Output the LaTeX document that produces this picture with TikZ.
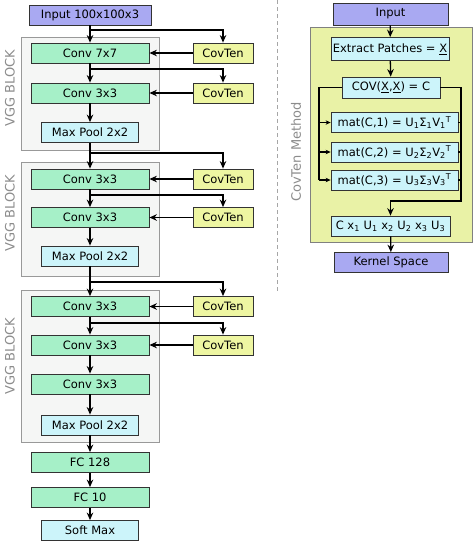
\documentclass[tikz,border=0pt]{standalone}
\usepackage{fontspec}
\setmainfont{DejaVu Sans}
\usetikzlibrary{arrows.meta}
\definecolor{convgreen}{HTML}{A6F0C8}
\definecolor{poolcyan}{HTML}{CCF4FA}
\definecolor{covyellow}{HTML}{EEF6A2}
\definecolor{methodbg}{HTML}{E9F2A6}
\definecolor{inpurple}{HTML}{A9A9F2}
\definecolor{blockgray}{HTML}{F5F6F5}

\begin{document}
\begin{tikzpicture}[x=1pt,y=-1pt,>={Stealth[length=7.5pt,width=6.5pt]},line width=1.3pt,
    box/.style={draw=black!80,line width=0.8pt,inner sep=0pt,minimum height=20pt,font=\fontsize{11.5}{13}\selectfont},
    conv/.style={box,fill=convgreen,minimum width=118pt},
    pool/.style={box,fill=poolcyan,minimum width=97pt},
    covten/.style={box,fill=covyellow,minimum width=60pt},
    inbox/.style={box,fill=inpurple},
    step box/.style={box,fill=poolcyan},
    vggblock/.style={draw=black!40,fill=blockgray,line width=0.8pt},
    lbl/.style={text=black!45,font=\fontsize{13}{15}\selectfont,rotate=90},
    small/.style={->,>={Stealth[length=5pt,width=4.5pt]}}]
    \useasboundingbox (0,0) rectangle (474,541);

    % vgg blocks
    \draw[vggblock] (21,37) rectangle (159,150);
    \draw[vggblock] (21,162) rectangle (159,276);
    \draw[vggblock] (21,290) rectangle (159,442);
    \node[lbl] (v1) at (10,88) {VGG BLOCK};
    \node[lbl] (v2) at (10,213) {VGG BLOCK};
    \node[lbl] (v3) at (10,356) {VGG BLOCK};

    % network
    \node[inbox,minimum width=122pt] (in) at (90,15) {Input 100x100x3};
    \node[conv] (c1) at (90,53) {Conv 7x7};
    \node[conv] (c2) at (90,93) {Conv 3x3};
    \node[pool] (p1) at (90,132.5) {Max Pool 2x2};
    \node[conv] (c3) at (90,179) {Conv 3x3};
    \node[conv] (c4) at (90,217.5) {Conv 3x3};
    \node[pool] (p2) at (90,256) {Max Pool 2x2};
    \node[conv] (c5) at (90,306.5) {Conv 3x3};
    \node[conv] (c6) at (90,345) {Conv 3x3};
    \node[conv] (c7) at (90,384) {Conv 3x3};
    \node[pool] (p3) at (90,425) {Max Pool 2x2};
    \node[conv] (f1) at (90,462.5) {FC 128};
    \node[conv] (f2) at (90,497.5) {FC 10};
    \node[pool] (sm) at (90,530.5) {Soft Max};

    \node[covten] (t1) at (223,53) {CovTen};
    \node[covten] (t2) at (223,93) {CovTen};
    \node[covten] (t3) at (223,179) {CovTen};
    \node[covten] (t4) at (223,217.5) {CovTen};
    \node[covten] (t5) at (223,306.5) {CovTen};
    \node[covten] (t6) at (223,345) {CovTen};

    \draw[->] (in) -- (c1);
    \draw[->] (c1) -- (c2);
    \draw[->] (c2) -- (p1);
    \draw[->] (p1) -- (c3);
    \draw[->] (c3) -- (c4);
    \draw[->] (c4) -- (p2);
    \draw[->] (p2) -- (c5);
    \draw[->] (c5) -- (c6);
    \draw[->] (c6) -- (c7);
    \draw[->] (c7) -- (p3);
    \draw[->] (p3) -- (f1);
    \draw[->] (f1) -- (f2);
    \draw[->] (f2) -- (sm);

    % branches to covten
    \coordinate (b1) at (90,30);
    \coordinate (b2) at (90,69);
    \coordinate (b3) at (90,153);
    \coordinate (b4) at (90,195);
    \coordinate (b5) at (90,282);
    \coordinate (b6) at (90,323);
    \foreach \i in {1,...,6}
        \draw[->] (b\i) -| (t\i);
    \draw[->] (t1) -- (c1);
    \draw[->] (t2) -- (c2);
    \draw[->] (t3) -- (c3);
    \draw[->] (t4) -- (c4);
    \draw[->] (t5) -- (c5);
    \draw[->] (t6) -- (c6);

    % separator
    \draw[black!35,line width=0.8pt,dash pattern=on 4pt off 3pt] (277,0) -- (277,292);

    % covten method
    \draw[draw=black!50,fill=methodbg,line width=0.8pt] (310,27) rectangle (472,242);
    \node[lbl] (cm) at (296,152) {CovTen Method};

    \node[inbox,minimum width=115pt,minimum height=22pt] (rin) at (390.5,14) {Input};
    \node[step box,minimum width=118pt,minimum height=23pt] (ext) at (390,49) {Extract Patches = \underline{X}};
    \node[step box,minimum width=98pt,minimum height=21pt] (cov) at (391,87.5) {COV(\underline{X},\underline{X}) = C};
    \node[step box,minimum width=127pt] (m1) at (394.5,122.5) {mat(C,1) = U\textsubscript{1}Σ\textsubscript{1}V\textsubscript{1}\textsuperscript{T}};
    \node[step box,minimum width=127pt] (m2) at (394.5,152) {mat(C,2) = U\textsubscript{2}Σ\textsubscript{2}V\textsubscript{2}\textsuperscript{T}};
    \node[step box,minimum width=127pt] (m3) at (394.5,180) {mat(C,3) = U\textsubscript{3}Σ\textsubscript{3}V\textsubscript{3}\textsuperscript{T}};
    \node[step box,minimum width=119pt] (cx) at (390.5,226) {C x\textsubscript{1} U\textsubscript{1} x\textsubscript{2} U\textsubscript{2} x\textsubscript{3} U\textsubscript{3}};
    \node[inbox,minimum width=114pt] (ks) at (391,262.5) {Kernel Space};

    \draw[->] (rin) -- (ext);
    \draw[->] (ext) -- (cov);
    \coordinate (lt) at (319,87.5);
    \coordinate (lb) at (319,180);
    \coordinate (rt) at (461,87.5);
    \coordinate (rb) at (461,201);
    \draw (cov) -- (lt) -- (lb);
    \foreach \m in {m1,m2,m3} {
        \draw[small] (lt |- \m) -- (\m);
        \draw (\m) -- (rt |- \m);
    }
    \draw[->] (cov) -- (rt) -- (rb) -| (cx);
    \draw[->] (cx) -- (ks);
\end{tikzpicture}
\end{document}
